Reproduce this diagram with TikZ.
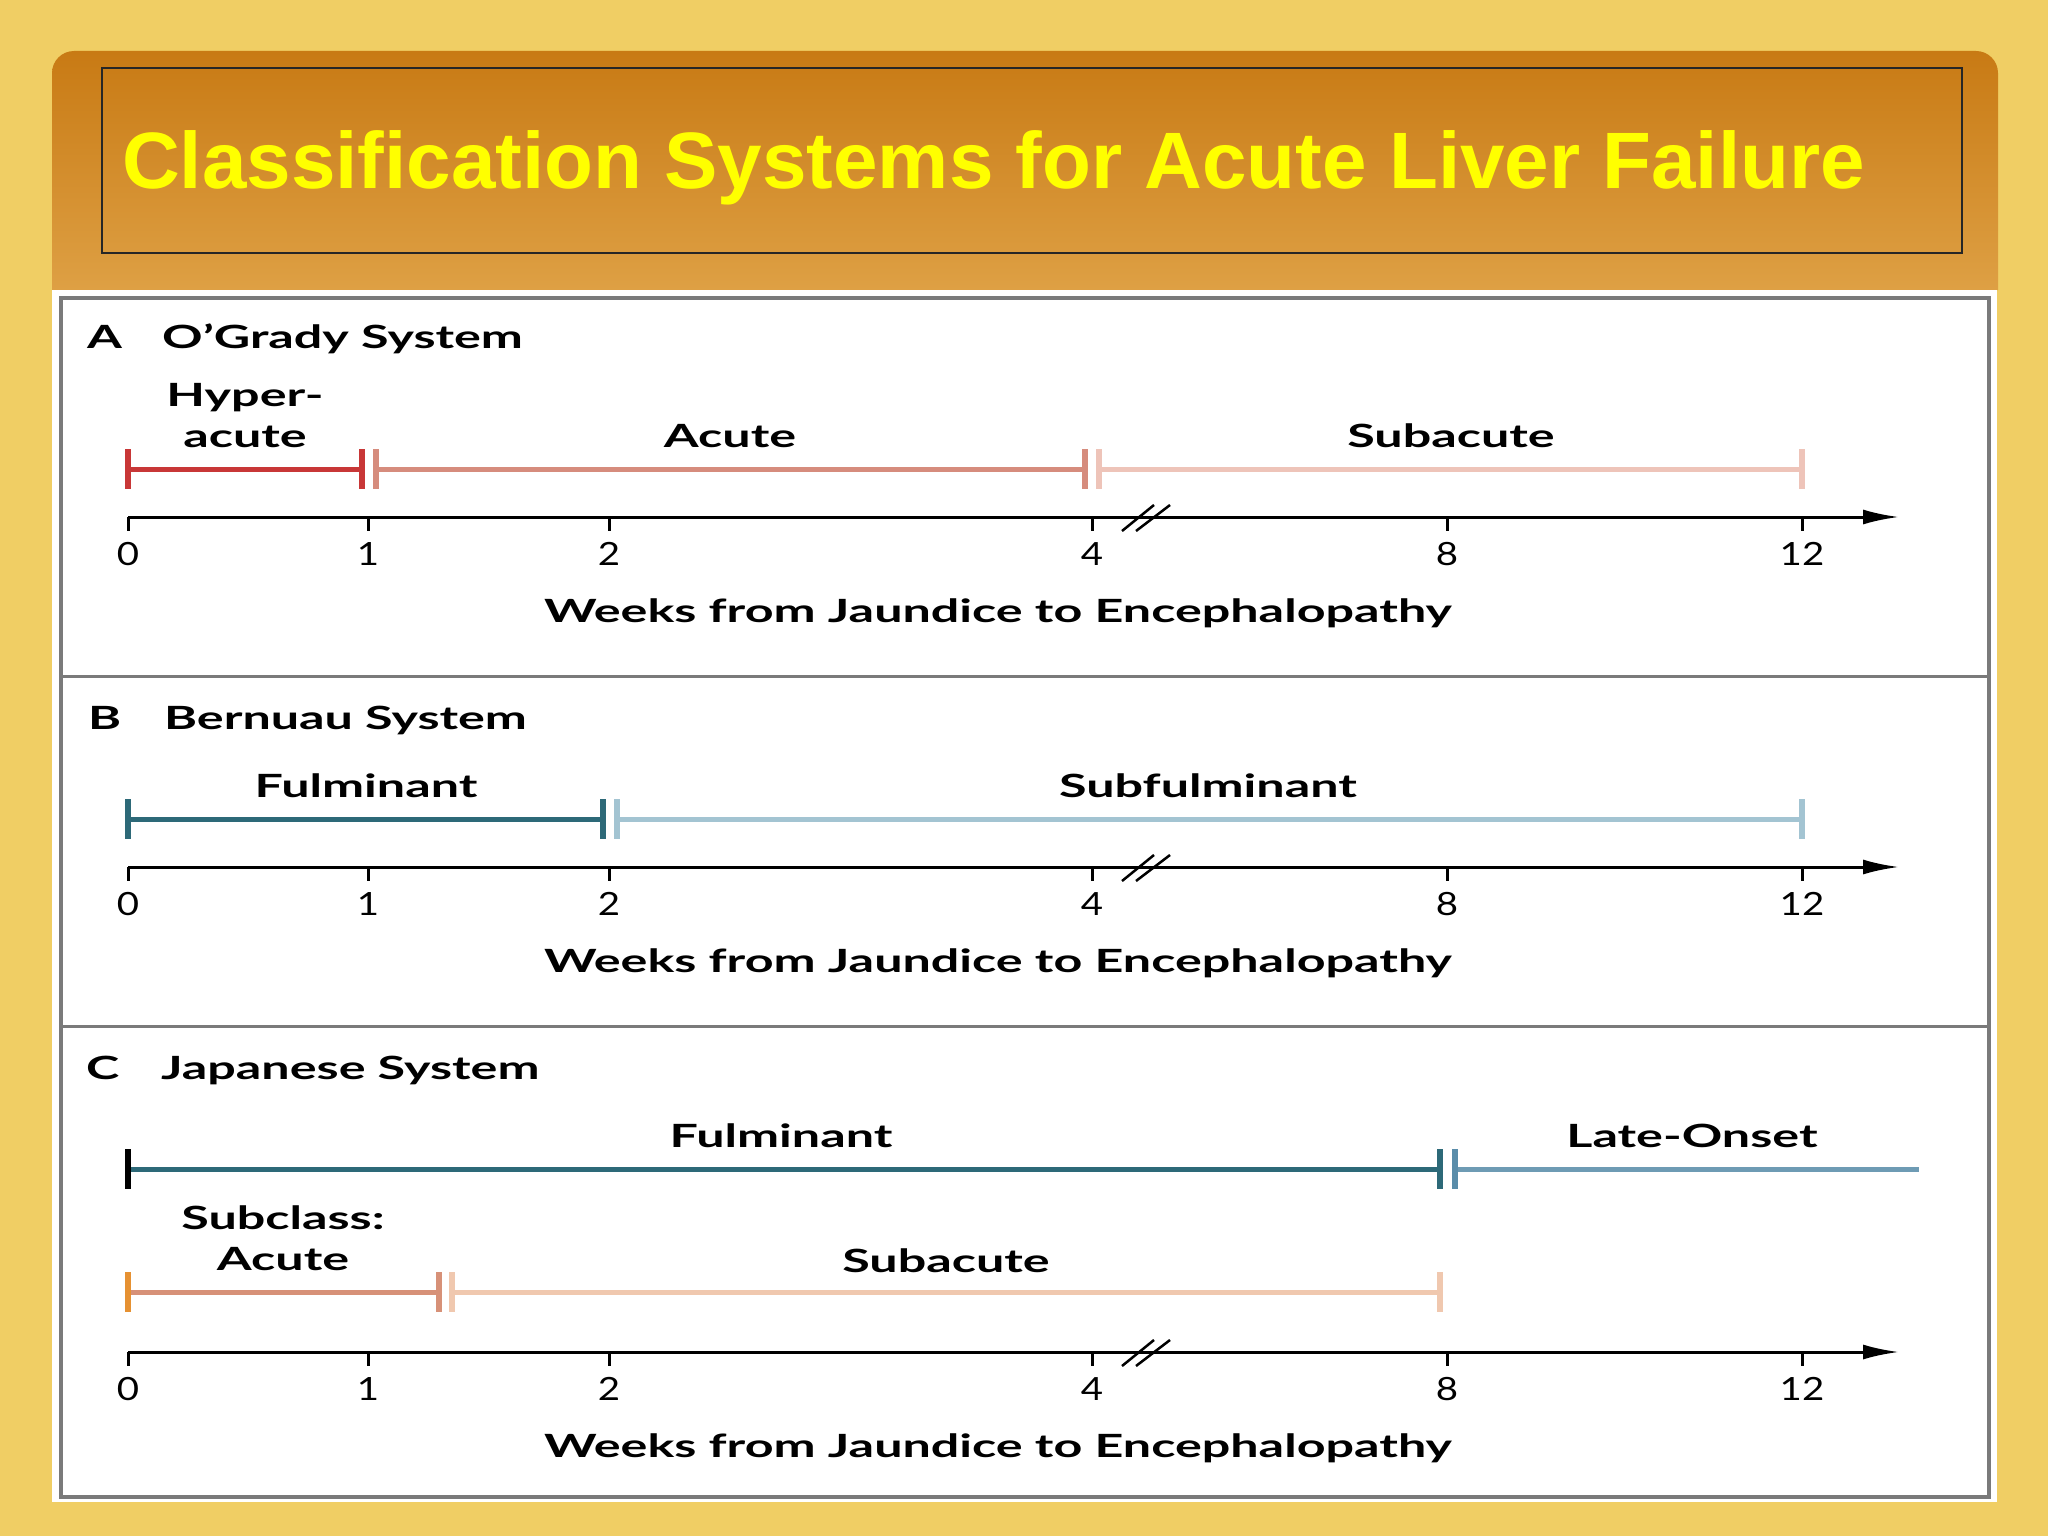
\documentclass[tikz,border=0pt]{standalone}
\usepackage{fontspec}
\usepackage{tikz}
\usetikzlibrary{arrows.meta}
\newfontfamily\titlefont{Liberation Sans}
\newfontfamily\figfont[FakeStretch=1.57]{Lato}
\newfontfamily\numfont[FakeStretch=1.2]{Lato}

\definecolor{slidebg}{HTML}{F0CE64}
\definecolor{hdrtop}{HTML}{C87A14}
\definecolor{hdrbot}{HTML}{DEA044}
\definecolor{ttlyellow}{HTML}{FFFF00}
\definecolor{framegray}{HTML}{7A7A7A}
\definecolor{hyperred}{HTML}{C83737}
\definecolor{acutesal}{HTML}{D68C7D}
\definecolor{subacpink}{HTML}{EEC4B9}
\definecolor{fulteal}{HTML}{2D6978}
\definecolor{subfulblue}{HTML}{A3C4D2}
\definecolor{lateblue}{HTML}{6E9BB4}
\definecolor{latebar}{HTML}{5A8DAA}
\definecolor{subclorange}{HTML}{E69132}
\definecolor{subclsal}{HTML}{D79178}
\definecolor{subclpeach}{HTML}{F0C8AF}

\begin{document}
\begin{tikzpicture}[x=1pt,y=-1pt,every node/.style={inner sep=0pt},
  lbl/.style={font=\figfont\bfseries\fontsize{32}{41}\selectfont,anchor=base},
  num/.style={font=\numfont\fontsize{32}{38}\selectfont,anchor=base},
  seg/.style={line width=5pt},endbar/.style={line width=6pt},
  timeaxis/.style={line width=3pt,-{Latex[length=36pt,width=15pt]}},
  tickmark/.style={line width=3pt},breakmark/.style={line width=2.5pt}]
% slide and header
\fill[slidebg] (0,0) rectangle (2048,1536);
\shade[top color=hdrtop,bottom color=hdrbot] (52,290) [rounded corners=22pt] -- (52,51) -- (1998,51) [sharp corners] -- (1998,290) -- cycle;
\draw[black!85,line width=1.5pt] (102,68) rectangle (1962,253);
\node[font=\titlefont\bfseries\fontsize{80}{92}\selectfont,text=ttlyellow,anchor=base west] (title) at (122,188) {Classification Systems for Acute Liver Failure};
\fill[white] (52,290) rectangle (1997,1502);
\draw[framegray,line width=3.5pt] (61,298) rectangle (1989,1497);
\draw[framegray,line width=3pt] (61,676) -- (1989,676) (61,1026) -- (1989,1026);

% A: O'Grady
\node[lbl,anchor=base west] (atag) at (87,348) {A};
\node[lbl,anchor=base west] (atitle) at (162,348) {O’Grady System};
\node[lbl,align=center,anchor=south] (hypera) at (245,448) {Hyper-\\acute};
\node[lbl] (acutea) at (730,447) {Acute};
\node[lbl] (subacutea) at (1451,447) {Subacute};
\draw[seg,hyperred] (128,469) -- (362,469);
\draw[seg,acutesal] (376,469) -- (1085,469);
\draw[seg,subacpink] (1099,469) -- (1802,469);
\draw[endbar,hyperred] (128,449) -- (128,489) (362,449) -- (362,489);
\draw[endbar,acutesal] (376,449) -- (376,489) (1085,449) -- (1085,489);
\draw[endbar,subacpink] (1099,449) -- (1099,489) (1802,449) -- (1802,489);
\draw[timeaxis] (128,517) -- (1899,517);
\draw[tickmark] (128,517)--(128,531) (368,517)--(368,531) (609,517)--(609,531) (1092,517)--(1092,531) (1447,517)--(1447,531) (1802,517)--(1802,531);
\draw[breakmark] (1122,531) -- (1154,505) (1136,531) -- (1170,505);
\node[num] (a0) at (128,565) {0};\node[num] (a1) at (368,565) {1};\node[num] (a2) at (609,565) {2};
\node[num] (a4) at (1092,565) {4};\node[num] (a8) at (1447,565) {8};\node[num] (a12) at (1802,565) {12};
\node[lbl] (aweeks) at (998,622) {Weeks from Jaundice to Encephalopathy};

% B: Bernuau
\node[lbl,anchor=base west] (btag) at (88,729) {B};
\node[lbl,anchor=base west] (btitle) at (164,729) {Bernuau System};
\node[lbl] (fulb) at (366,797) {Fulminant};
\node[lbl] (subfulb) at (1208,797) {Subfulminant};
\draw[seg,fulteal] (128,819) -- (603,819);
\draw[seg,subfulblue] (617,819) -- (1802,819);
\draw[endbar,fulteal] (128,799) -- (128,839) (603,799) -- (603,839);
\draw[endbar,subfulblue] (617,799) -- (617,839) (1802,799) -- (1802,839);
\draw[timeaxis] (128,867) -- (1899,867);
\draw[tickmark] (128,867)--(128,881) (368,867)--(368,881) (609,867)--(609,881) (1092,867)--(1092,881) (1447,867)--(1447,881) (1802,867)--(1802,881);
\draw[breakmark] (1122,881) -- (1154,855) (1136,881) -- (1170,855);
\node[num] (b0) at (128,915) {0};\node[num] (b1) at (368,915) {1};\node[num] (b2) at (609,915) {2};
\node[num] (b4) at (1092,915) {4};\node[num] (b8) at (1447,915) {8};\node[num] (b12) at (1802,915) {12};
\node[lbl] (bweeks) at (998,972) {Weeks from Jaundice to Encephalopathy};

% C: Japanese
\node[lbl,anchor=base west] (ctag) at (86,1079) {C};
\node[lbl,anchor=base west] (ctitle) at (161,1079) {Japanese System};
\node[lbl] (fulc) at (781,1147) {Fulminant};
\node[lbl] (latec) at (1692,1147) {Late-Onset};
\draw[seg,fulteal] (128,1169) -- (1440,1169);
\draw[seg,lateblue] (1455,1169) -- (1919,1169);
\draw[endbar,black] (128,1149) -- (128,1189);
\draw[endbar,fulteal] (1440,1149) -- (1440,1189);
\draw[endbar,latebar] (1455,1149) -- (1455,1189);
\node[lbl,align=center,anchor=south] (subclc) at (283,1271) {Subclass:\\Acute};
\node[lbl] (subacc) at (946,1272) {Subacute};
\draw[seg,subclsal] (128,1292) -- (439,1292);
\draw[seg,subclpeach] (452,1292) -- (1440,1292);
\draw[endbar,subclorange] (128,1272) -- (128,1312);
\draw[endbar,subclsal] (439,1272) -- (439,1312);
\draw[endbar,subclpeach] (452,1272) -- (452,1312) (1440,1272) -- (1440,1312);
\draw[timeaxis] (128,1352) -- (1899,1352);
\draw[tickmark] (128,1352)--(128,1366) (368,1352)--(368,1366) (609,1352)--(609,1366) (1092,1352)--(1092,1366) (1447,1352)--(1447,1366) (1802,1352)--(1802,1366);
\draw[breakmark] (1122,1366) -- (1154,1340) (1136,1366) -- (1170,1340);
\node[num] (c0) at (128,1400) {0};\node[num] (c1) at (368,1400) {1};\node[num] (c2) at (609,1400) {2};
\node[num] (c4) at (1092,1400) {4};\node[num] (c8) at (1447,1400) {8};\node[num] (c12) at (1802,1400) {12};
\node[lbl] (cweeks) at (998,1457) {Weeks from Jaundice to Encephalopathy};
\end{tikzpicture}
\end{document}
